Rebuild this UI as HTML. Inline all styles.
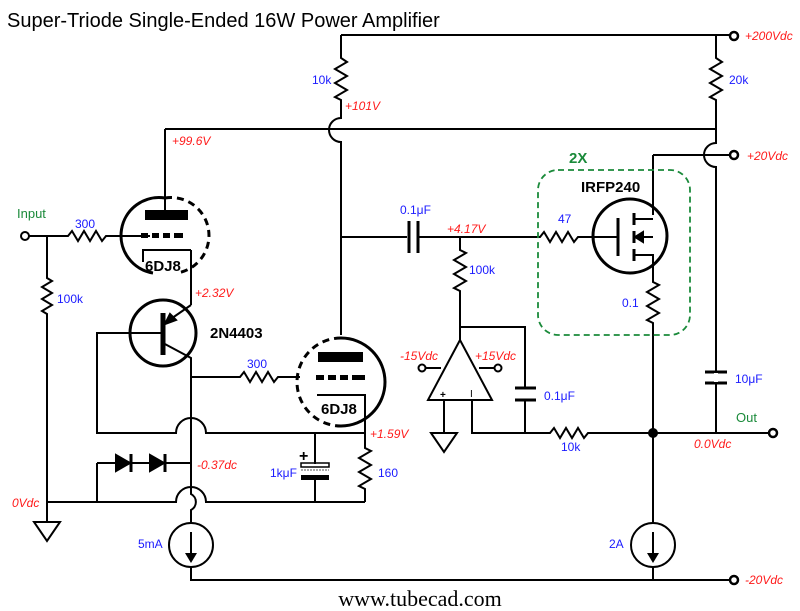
<!DOCTYPE html>
<html><head><meta charset="utf-8"><style>
html,body{margin:0;padding:0;background:#fff}
svg{display:block}
text{font-family:"Liberation Sans",Arial,sans-serif}
.b{fill:#1a1aff;font-size:12px}
.r{fill:#ff1a1a;font-size:12px;font-style:italic}
.k{fill:#000;font-size:15px;font-weight:bold}
</style></head><body>
<svg width="800" height="611" viewBox="0 0 800 611" xmlns="http://www.w3.org/2000/svg">
<text x="7" y="27" style="font-size:20px;font-family:'Liberation Sans',sans-serif" fill="#000">Super-Triode Single-Ended 16W Power Amplifier</text>
<g fill="none" stroke="#000" stroke-width="2">
<path d="M341 35H730"/>
<circle cx="734" cy="36" r="4" stroke-width="2.5"/>
<path d="M341 35V58 l6 4 -12 7 12 7 -12 7 12 7 -12 7 6 3V118 a12 12 0 0 0 0 24 V335"/>
<path d="M716 35V58 l6 4 -12 7 12 7 -12 7 12 7 -12 7 6 3V143 a12 12 0 0 0 0 24 V433"/>
<path d="M165 129H716"/>
<path d="M165 129V218"/>
<path d="M653 155H730 M653 155V215"/>
<circle cx="734" cy="155" r="4" stroke-width="2.5"/>
<circle cx="25" cy="236" r="4"/>
<path d="M29 236H68 l4 -5 6 10 6 -10 6 10 6 -10 6 10 4 -5H150"/>
<path d="M47 236V278 l5 3 -10 6 10 6 -10 6 10 6 -10 6 5 3V502"/>
<path d="M153 273 A37 37 0 0 1 165 198" stroke-width="3"/>
<path d="M165 198 A37 37 0 0 1 177 273" stroke-dasharray="7 5" stroke-width="3"/>
<path d="M191 250H143V262 M191 250V305"/>
<circle cx="163" cy="333" r="33" stroke-width="3"/>
<path d="M163 313V355" stroke-width="5"/>
<path d="M163 333H97V433H176 a15 15 0 0 1 30 0 H365"/>
<path d="M191 305L165 323 M163 343L191 358V433 M191 433V494 a9 9 0 0 1 0 16 V523"/>
<polygon points="165,324 176,320 170,314" fill="#000"/>
<path d="M191 377H240 l4 -5 6 10 6 -10 6 10 6 -10 6 10 4 -5H300"/>
<path d="M97 463H191 M97 463V502"/>
<polygon points="116,455 116,471 130,463" fill="#000"/>
<path d="M131 454V472" stroke-width="3"/>
<polygon points="150,455 150,471 164,463" fill="#000"/>
<path d="M165 454V472" stroke-width="3"/>
<path d="M47 502H176 a15 15 0 0 1 30 0 H365"/>
<path d="M47 502V522"/>
<polygon points="34,522 60,522 47,541"/>
<path d="M341 426 A44 44 0 0 0 385 382 A44 44 0 0 0 341 338" stroke-width="3"/>
<path d="M341 338 A44 44 0 0 0 297 382 A44 44 0 0 0 341 426" stroke-dasharray="7 5" stroke-width="3"/>
<path d="M317 395H365V405 M365 395V448 l6 3 -12 7 12 7 -12 7 12 7 -12 7 6 3V502"/>
<path d="M315 433V464 M315 478V502"/>
<rect x="301" y="463" width="28" height="4" stroke-width="1.5"/>
<circle cx="191" cy="545" r="22"/>
<path d="M191 567V580H730 M191 532V555"/>
<circle cx="734" cy="580" r="4" stroke-width="2.5"/>
<path d="M341 237H407 M418 237H540 l4 -5 6 10 6 -10 6 10 6 -10 6 10 4 -5H600"/>
<path d="M409 221V253 M418 221V253" stroke-width="3"/>
<path d="M460 237V250 l6 3 -12 7 12 7 -12 7 12 7 -12 7 6 3V340 M460 327H525V388 M525 400V433"/>
<path d="M515 388H536 M515 400H536" stroke-width="3"/>
<polygon points="460,340 428,400 492,400"/>
<path d="M426 368H441 M479 368H494"/>
<circle cx="422" cy="368" r="3.5"/>
<circle cx="498" cy="368" r="3.5"/>
<path d="M444 400V433 M472 400V433H550 l4 -5 6 10 6 -10 6 10 6 -10 6 10 4 -5H653"/>
<polygon points="431,433 457,433 444,452"/>
<circle cx="630" cy="236" r="37" stroke-width="3"/>
<path d="M600 237H618"/>
<path d="M618 218V256" stroke-width="3"/>
<path d="M634 213V225 M634 231V243 M634 249V261" stroke-width="3"/>
<path d="M634 219H653 M634 237H653 M634 255H653V282 l6 3 -12 7 12 7 -12 7 12 7 -12 7 6 3V523 M653 567V580"/>
<polygon points="635,237 643,232 643,242" fill="#000"/>
<circle cx="653" cy="545" r="22"/>
<path d="M653 532V555"/>
<path d="M705 372H727 M705 383H727" stroke-width="3"/>
<path d="M653 433H768"/>
<circle cx="773" cy="433" r="4" stroke-width="2.5"/>
<rect x="538" y="170" width="152" height="165" rx="20" stroke="#1a8a3a" stroke-width="1.8" stroke-dasharray="6 4"/>
</g>
<line x1="716" y1="373" x2="716" y2="382" stroke="#fff" stroke-width="4"/>
<g fill="#000">
<rect x="145" y="210" width="43" height="10"/>
<rect x="141" y="233" width="7" height="5"/><rect x="152" y="233" width="7" height="5"/><rect x="163" y="233" width="7" height="5"/><rect x="174" y="233" width="9" height="5"/>
<rect x="318" y="352" width="45" height="10"/>
<rect x="316" y="375" width="8" height="5"/><rect x="328" y="375" width="8" height="5"/><rect x="340" y="375" width="8" height="5"/><rect x="352" y="375" width="13" height="5"/>
<rect x="301" y="475" width="28" height="5"/>
<circle cx="653" cy="433" r="5"/>
<polygon points="185,553 197,553 191,563"/>
<polygon points="647,553 659,553 653,563"/>
</g>
<line x1="301" y1="470" x2="329" y2="470" stroke="#aaa" stroke-width="2" stroke-dasharray="2 1"/>
<text x="299" y="461" style="font-size:16px;font-weight:bold">+</text>
<text x="440" y="398" style="font-size:10px;font-weight:bold">+</text>
<text x="470" y="397" style="font-size:10px">I</text>
<text x="17" y="218" fill="#1a8a3a" style="font-size:13px">Input</text>
<text x="75" y="228" class="b">300</text>
<text x="57" y="303" class="b">100k</text>
<text x="145" y="271" class="k">6DJ8</text>
<text x="321" y="414" class="k">6DJ8</text>
<text x="210" y="338" class="k">2N4403</text>
<text x="247" y="368" class="b">300</text>
<text x="312" y="84" class="b">10k</text>
<text x="729" y="84" class="b">20k</text>
<text x="345" y="110" class="r">+101V</text>
<text x="172" y="145" class="r">+99.6V</text>
<text x="195" y="297" class="r">+2.32V</text>
<text x="370" y="438" class="r">+1.59V</text>
<text x="197" y="469" class="r">-0.37dc</text>
<text x="12" y="507" class="r">0Vdc</text>
<text x="270" y="477" class="b">1kμF</text>
<text x="378" y="477" class="b">160</text>
<text x="138" y="548" class="b">5mA</text>
<text x="609" y="548" class="b">2A</text>
<text x="745" y="40" class="r">+200Vdc</text>
<text x="747" y="160" class="r">+20Vdc</text>
<text x="745" y="584" class="r">-20Vdc</text>
<text x="400" y="214" class="b">0.1μF</text>
<text x="447" y="233" class="r">+4.17V</text>
<text x="469" y="274" class="b">100k</text>
<text x="400" y="360" class="r">-15Vdc</text>
<text x="475" y="360" class="r">+15Vdc</text>
<text x="544" y="400" class="b">0.1μF</text>
<text x="561" y="451" class="b">10k</text>
<text x="558" y="223" class="b">47</text>
<text x="622" y="307" class="b">0.1</text>
<text x="735" y="383" class="b">10μF</text>
<text x="736" y="422" fill="#1a8a3a" style="font-size:13px">Out</text>
<text x="694" y="448" class="r">0.0Vdc</text>
<text x="569" y="163" fill="#1a8a3a" style="font-size:15px;font-weight:bold">2X</text>
<text x="581" y="192" class="k">IRFP240</text>
<text x="420" y="606" text-anchor="middle" style="font-family:'Liberation Serif',serif;font-size:22px">www.tubecad.com</text>
</svg>
</body></html>
